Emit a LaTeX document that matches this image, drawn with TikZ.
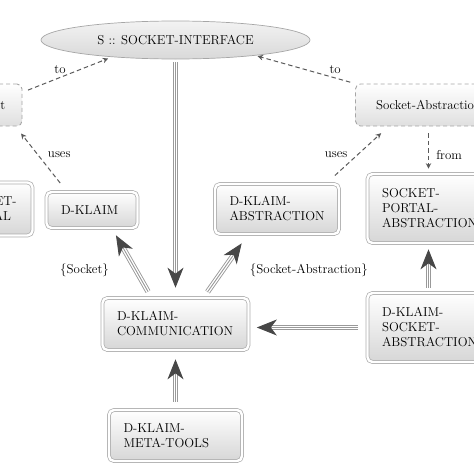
\documentclass[tikz,border=0pt]{standalone}
\usetikzlibrary{shapes.geometric, arrows.meta, calc}

\begin{document}
\begin{tikzpicture}[x=1pt, y=-1pt,
  font=\fontsize{12.9}{15}\selectfont,
  module/.style={draw=gray!65, line width=0.7pt, double=white, double distance=2.4pt,
    rounded corners=5pt, top color=white, bottom color=gray!32,
    align=left, inner xsep=14.5pt, inner ysep=2pt},
  sigbox/.style={draw=gray!70, line width=0.9pt, dash pattern=on 4pt off 3pt,
    rounded corners=5pt, top color=white, bottom color=gray!25,
    minimum height=42pt, inner xsep=16pt},
  dep/.style={draw=black!65, line width=1pt, dash pattern=on 4.5pt off 3pt,
    -{Stealth[length=5.5pt, width=5.5pt]}},
  impl/.style 2 args={draw=gray!80, line width=0.9pt, shorten <=#1, shorten >=#2,
    -{Stealth[length=20pt, width=16pt, inset=6pt, color=black!72]},
    preaction={draw=gray!80, -, line width=0.9pt, double=white, double distance=3.6pt,
      shorten <=#1, shorten >=#2+12pt}}]
\useasboundingbox (0,0) rectangle (474,474);

% interface
\node[ellipse, draw=gray!70, line width=0.7pt, top color=gray!10, bottom color=gray!30,
  minimum width=269pt, minimum height=38pt, inner sep=0pt] (iface) at (175.5,40)
  {S :: SOCKET-INTERFACE};

% signatures
\node[sigbox, minimum width=69pt] (sock) at (-12.5,105) {Socket};
\node[sigbox, minimum width=146pt] (sockabs) at (428.5,105) {Socket-Abstraction};

% modules
\node[module, text width=62pt, minimum height=36pt] (dklaim) at (92,210) {D-KLAIM};
\node[module, text width=59pt, minimum height=53pt] (portal) at (-11.5,209) {SOCKET-\\PORTAL};
\node[module, text width=95pt, minimum height=50pt] (dkabs) at (277,209) {D-KLAIM-\\ABSTRACTION};
\node[module, text width=93pt, minimum height=69pt] (spa) at (428.5,208.5) {SOCKET-\\PORTAL-\\ABSTRACTION};
\node[module, text width=117pt, minimum height=52pt] (comm) at (175.5,324) {D-KLAIM-\\COMMUNICATION};
\node[module, text width=93pt, minimum height=69pt] (dksa) at (428.5,327.5) {D-KLAIM-\\SOCKET-\\ABSTRACTION};
\node[module, text width=104pt, minimum height=51pt] (meta) at (175.5,435.5) {D-KLAIM-\\META-TOOLS};

% implementations
\draw[impl={3pt}{10pt}] (iface.south) -- (comm.north);
\draw[impl={7pt}{8pt}] ([xshift=-24pt]comm.north) -- node[pos=.4, left=23pt] {\{Socket\}} ([xshift=20pt]dklaim.south);
\draw[impl={7pt}{11pt}] ([xshift=28pt]comm.north) -- node[pos=.44, right=23pt] {\{Socket-Abstraction\}} ([xshift=-29pt]dkabs.south);
\draw[impl={9pt}{8pt}] (dksa.west) -- (dksa.west -| comm.east);
\draw[impl={5pt}{6pt}] (dksa.north) -- (spa.south);
\draw[impl={8pt}{9pt}] (meta.north) -- (meta.north |- comm.south);

% dependencies
\draw[dep, shorten <=6pt, shorten >=4pt] (sock.20) -- node[pos=.42, above] {to} (iface.195);
\draw[dep, shorten <=11pt, shorten >=9pt] ([xshift=-25pt]dklaim.north) -- node[pos=.56, right=6pt] {uses} ([xshift=28pt]sock.south);
\draw[dep, shorten <=5pt, shorten >=2pt] (sockabs.north west) -- node[pos=.2, above] {to} (iface.-11.5);
\draw[dep, shorten <=12pt, shorten >=10pt] ([xshift=49pt]dkabs.north) -- node[pos=.5, left=6pt] {uses} ([xshift=-40pt]sockabs.south);
\draw[dep, shorten <=7pt, shorten >=5pt] (sockabs.south) -- node[pos=.61, right=4pt] {from} (spa.north);
\end{tikzpicture}
\end{document}
